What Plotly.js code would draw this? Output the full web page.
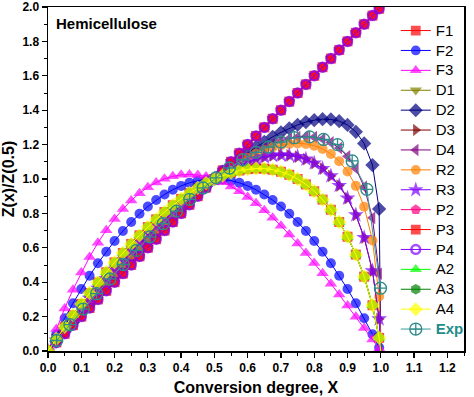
<!DOCTYPE html>
<html>
<head>
<meta charset="utf-8">
<script src="https://cdn.plot.ly/plotly-3.0.1.min.js"></script>
<style>html,body{margin:0;padding:0;background:#fff;}#chart{width:474px;height:397px;}</style>
</head>
<body>
<div id="chart"></div>
<script>
// Conversion degree grid (last point 1.0 only closes the line; no marker)
const alpha = [0,0.025,0.05,0.075,0.1,0.125,0.15,0.175,0.2,0.225,0.25,0.275,0.3,0.325,0.35,0.375,0.4,0.425,0.45,0.475,0.5,0.525,0.55,0.575,0.6,0.625,0.65,0.675,0.7,0.725,0.75,0.775,0.8,0.825,0.85,0.875,0.9,0.925,0.95,0.975,0.995,1.0];

// F1 = A2 = A3 = A4 curve
const zF1 = [0,0.0712,0.1406,0.2081,0.2736,0.3371,0.3986,0.4579,0.5151,0.5700,0.6226,0.6727,0.7204,0.7655,0.8079,0.8476,0.8844,0.9181,0.9487,0.9761,1.0,1.0203,1.0368,1.0493,1.0575,1.0613,1.0602,1.0540,1.0422,1.0244,1.0,0.9684,0.9288,0.8801,0.8211,0.75,0.6644,0.5605,0.4322,0.2661,0.0764,0];
const zA2 = zF1.slice();
const zA3 = zF1.slice();
const zA4 = zF1.slice();
const zF2 = [0,0.0975,0.19,0.2775,0.36,0.4375,0.51,0.5775,0.64,0.6975,0.75,0.7975,0.84,0.8775,0.91,0.9375,0.96,0.9775,0.99,0.9975,1.0,0.9975,0.99,0.9775,0.96,0.9375,0.91,0.8775,0.84,0.7975,0.75,0.6975,0.64,0.5775,0.51,0.4375,0.36,0.2775,0.19,0.0975,0.0199,0];
const zF3 = [0,0.1284,0.2470,0.3561,0.4560,0.5469,0.6290,0.7026,0.7680,0.8254,0.8750,0.9171,0.9520,0.9799,1.0010,1.0156,1.0240,1.0264,1.0230,1.0141,1.0,0.9809,0.9570,0.9286,0.8960,0.8594,0.8190,0.7751,0.7280,0.6779,0.6250,0.5696,0.5120,0.4524,0.3910,0.3281,0.2640,0.1989,0.1330,0.0666,0.0133,0];
// D1 = P2 = P3 = P4 straight line
const zD1 = [0,0.05,0.1,0.15,0.2,0.25,0.3,0.35,0.4,0.45,0.5,0.55,0.6,0.65,0.7,0.75,0.8,0.85,0.9,0.95,1.0,1.05,1.1,1.15,1.2,1.25,1.3,1.35,1.4,1.45,1.5,1.55,1.6,1.65,1.7,1.75,1.8,1.85,1.9,1.95,1.99,2.0];
const zP2 = zD1.slice();
const zP3 = zD1.slice();
const zP4 = zD1.slice();
const zD2 = [0,0.0562,0.1120,0.1672,0.2219,0.2761,0.3297,0.3826,0.4350,0.4867,0.5377,0.5880,0.6375,0.6862,0.7340,0.7810,0.8270,0.8719,0.9158,0.9585,1.0,1.0401,1.0788,1.1159,1.1512,1.1846,1.2160,1.2450,1.2713,1.2947,1.3147,1.3307,1.3421,1.3478,1.3465,1.3363,1.3141,1.2745,1.2068,1.0811,0.8258,0];
// D3 = R3 curve
const zD3 = [0,0.0636,0.1261,0.1874,0.2475,0.3065,0.3641,0.4204,0.4753,0.5288,0.5808,0.6312,0.6800,0.7271,0.7723,0.8157,0.8570,0.8963,0.9333,0.9679,1.0,1.0294,1.0559,1.0794,1.0995,1.1159,1.1284,1.1365,1.1399,1.1379,1.1300,1.1152,1.0926,1.0608,1.0181,0.9618,0.8883,0.7914,0.6596,0.4655,0.1865,0];
const zR3 = zD3.slice();
const zD4 = [0,0.0587,0.1167,0.1740,0.2305,0.2863,0.3413,0.3954,0.4487,0.5010,0.5524,0.6028,0.6521,0.7003,0.7473,0.7931,0.8375,0.8805,0.9220,0.9619,1.0,1.0363,1.0705,1.1026,1.1323,1.1593,1.1834,1.2044,1.2217,1.2349,1.2435,1.2466,1.2434,1.2326,1.2124,1.1802,1.1320,1.0611,0.9539,0.7740,0.4490,0];
const zR2 = [0,0.0600,0.1192,0.1775,0.2351,0.2917,0.3474,0.4022,0.4559,0.5086,0.5602,0.6107,0.6599,0.7078,0.7543,0.7994,0.8430,0.8850,0.9252,0.9636,1.0,1.0343,1.0662,1.0957,1.1224,1.1461,1.1666,1.1834,1.1961,1.2042,1.2071,1.2039,1.1937,1.1749,1.1458,1.1036,1.0440,0.9602,0.8382,0.6427,0.3173,0];
// Experimental points
const expX = [0.026,0.066,0.106,0.146,0.186,0.226,0.266,0.306,0.346,0.386,0.426,0.466,0.505,0.545,0.585,0.625,0.662,0.700,0.740,0.786,0.828,0.870,0.914,0.958,0.999];
const expY = [0.061,0.153,0.244,0.333,0.419,0.503,0.585,0.664,0.740,0.813,0.882,0.948,1.007,1.064,1.112,1.155,1.186,1.215,1.240,1.245,1.230,1.200,1.105,0.940,0.365];

const names = ['F1','F2','F3','D1','D2','D3','D4','R2','R3','P2','P3','P4','A2','A3','A4'];
const series = [zF1,zF2,zF3,zD1,zD2,zD3,zD4,zR2,zR3,zP2,zP3,zP4,zA2,zA3,zA4];
const colors = ['#FF0000','#0000FF','#FF00FF','#808000','#000080','#800000','#800080','#FF8000','#8000FF','#FF0080','#FF0000','#8000FF','#00FF00','#008000','#FFFF00'];
const symbols = ['square','circle','triangle-up','triangle-down','diamond','triangle-right','triangle-left','circle','star','pentagon','square','circle-open','triangle-up','hexagon','diamond'];
const msizes = [10,10,11,11,11,11,11,10,12,11,10,9,11,11,11];

const traces = series.map((ys, k) => {
  const sz = alpha.map((a, i) => (i === alpha.length - 1 ? 0 : msizes[k]));
  return {
    x: alpha, y: ys, type: 'scatter', mode: 'lines+markers',
    name: '<span style="font-size:15px">' + names[k] + '</span>',
    line: {color: colors[k], width: 1},
    marker: {symbol: symbols[k], color: colors[k], size: sz,
             line: {width: symbols[k] === 'circle-open' ? 2.5 : 0, color: colors[k]}},
    cliponaxis: true
  };
});
traces.push({
  x: expX, y: expY, type: 'scatter', mode: 'lines+markers',
  name: '<span style="font-size:15px;font-weight:bold;fill:#1E8C8C">Exp</span>',
  line: {color: '#3A9A9A', width: 1},
  marker: {symbol: 'circle-cross-open', color: '#2E8B8B', size: 12, line: {width: 1.3, color: '#2E8B8B'}}
});

const font = 'Arial, "Liberation Sans", sans-serif';
const layout = {
  width: 474, height: 397,
  margin: {l: 48, r: 5, t: 7, b: 46},
  paper_bgcolor: '#fff', plot_bgcolor: '#fff',
  font: {family: font, color: '#000'},
  showlegend: true,
  legend: {x: 0.836, y: 0.975, xanchor: 'left', yanchor: 'top', bgcolor: 'rgba(0,0,0,0)',
           borderwidth: 0, font: {size: 13, family: font, color: '#000'}},
  xaxis: {
    range: [0, 1.25], dtick: 0.1, tick0: 0, tickformat: '.1f',
    ticks: 'outside', ticklen: 5, tickwidth: 1.3, tickcolor: '#000',
    minor: {dtick: 0.05, ticks: 'outside', ticklen: 3, tickwidth: 1, tickcolor: '#000'},
    showline: true, linecolor: '#000', linewidth: 1.5, mirror: true,
    showgrid: false, zeroline: false,
    tickfont: {size: 12, weight: 'bold', family: font},
    title: {text: 'Conversion degree, X', font: {size: 16, weight: 'bold', family: font}, standoff: 8}
  },
  yaxis: {
    range: [0, 2.0], dtick: 0.2, tick0: 0, tickformat: '.1f',
    ticks: 'outside', ticklen: 5, tickwidth: 1.3, tickcolor: '#000',
    minor: {dtick: 0.1, ticks: 'outside', ticklen: 3, tickwidth: 1, tickcolor: '#000'},
    showline: true, linecolor: '#000', linewidth: 1.5, mirror: true,
    showgrid: false, zeroline: false,
    tickfont: {size: 12, weight: 'bold', family: font},
    title: {text: 'Z(x)/Z(0.5)', font: {size: 16, weight: 'bold', family: font}, standoff: 4}
  },
  annotations: [{
    text: 'Hemicellulose', xref: 'paper', yref: 'paper', x: 0.014, y: 0.953,
    xanchor: 'left', yanchor: 'middle', showarrow: false,
    font: {size: 15, weight: 'bold', family: font, color: '#000'}
  }]
};

Plotly.newPlot('chart', traces, layout, {displayModeBar: false, staticPlot: true});
</script>
</body>
</html>
